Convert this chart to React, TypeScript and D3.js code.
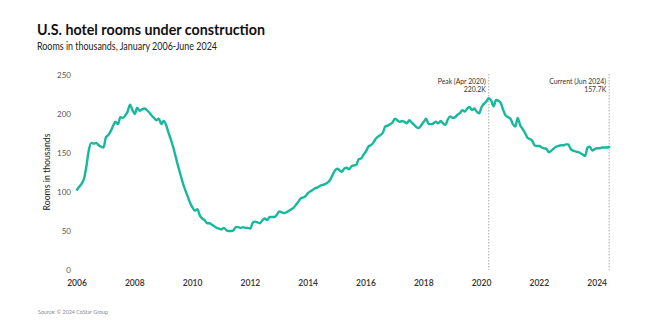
import React from "react";
import * as d3 from "d3";

const startYear = 2006;
const values: number[] = [
  // 2006
  103, 107, 111, 118, 135, 155, 163, 162, 163, 160, 158, 157,
  // 2007
  170, 173, 178, 185, 190, 187, 196, 195, 198, 203, 212, 205,
  // 2008
  200, 208, 204, 206, 207, 205, 202, 198, 195, 192, 194, 187,
  // 2009
  191, 186, 176, 167, 157, 145, 133, 122, 111, 102, 94, 86,
  // 2010
  80, 76, 78, 70, 66, 64, 60, 60, 58, 56, 54, 53,
  // 2011
  52, 54, 51, 50, 50, 51, 55, 55, 54, 55, 54, 54,
  // 2012
  53, 61, 62, 61, 60, 64, 66, 64, 68, 68, 68, 71,
  // 2013
  75, 74, 73, 74, 76, 78, 80, 84, 88, 92, 93, 95,
  // 2014
  99, 101, 103, 105, 106, 108, 109, 110, 112, 115, 121, 127,
  // 2015
  130, 128, 126, 130, 131, 129, 133, 134, 135, 142, 143, 148,
  // 2016
  152, 158, 160, 163, 168, 171, 173, 176, 184, 185, 187, 189,
  // 2017
  194, 192, 190, 191, 190, 188, 192, 189, 186, 183, 182, 186,
  // 2018
  190, 194, 187, 187, 188, 190, 188, 191, 188, 186, 193, 197,
  // 2019
  195, 196, 199, 201, 205, 203, 207, 209, 205, 207, 203, 201,
  // 2020
  209, 213, 216, 220.2, 217, 210, 218, 217, 214, 205, 198, 196,
  // 2021
  194, 187, 184, 195, 186, 181, 176, 170, 168, 166, 160, 159,
  // 2022
  159, 157, 156, 155, 151, 153, 156, 158, 159, 160, 160, 161,
  // 2023
  161, 155, 153, 152, 151, 150, 148, 146, 157, 158, 153, 155,
  // 2024
  156, 156, 157, 157, 157, 157.7,
];

const yTicks = [0, 50, 100, 150, 200, 250];
const xTicks = [2006, 2008, 2010, 2012, 2014, 2016, 2018, 2020, 2022, 2024];

const annotations = [
  { t: 2020 + 3 / 12, label: "Peak (Apr 2020)", value: "220.2K" },
  { t: 2024 + 5 / 12, label: "Current (Jun 2024)", value: "157.7K" },
];

const FONT = "Lato, 'Open Sans', sans-serif";

export default function App() {
  const W = 650;
  const H = 327;
  const x = d3.scaleLinear().domain([2006, 2024 + 5 / 12]).range([77, 609.2]);
  const y = d3.scaleLinear().domain([0, 250]).range([270, 75]);

  const pts = values.map((v, i) => ({ t: startYear + i / 12, v }));
  const line = d3
    .line<{ t: number; v: number }>()
    .x((d) => x(d.t))
    .y((d) => y(d.v))
    .curve(d3.curveMonotoneX);

  return (
    <svg
      width={W}
      height={H}
      style={{ position: "absolute", left: 0, top: 0, background: "#fff" }}
      fontFamily={FONT}
    >
      <text
        x={37}
        y={35}
        fontSize={16}
        fontWeight={700}
        fill="#111"
        textLength={228}
        lengthAdjust="spacingAndGlyphs"
      >
        U.S. hotel rooms under construction
      </text>
      <text
        x={37}
        y={50}
        fontSize={10.5}
        fill="#222"
        textLength={180}
        lengthAdjust="spacingAndGlyphs"
      >
        Rooms in thousands, January 2006-June 2024
      </text>

      {yTicks.map((t) => (
        <text
          key={t}
          x={71}
          y={y(t)}
          dy="0.35em"
          textAnchor="end"
          fontSize={8}
          fill="#555"
        >
          {t}
        </text>
      ))}

      {xTicks.map((t) => (
        <text
          key={t}
          x={x(t)}
          y={283}
          dy="0.35em"
          textAnchor="middle"
          fontSize={8.5}
          fontWeight={600}
          fill="#333"
        >
          {t}
        </text>
      ))}

      <text
        transform={`translate(50,172) rotate(-90)`}
        textAnchor="middle"
        fontSize={10}
        fill="#222"
        textLength={77}
        lengthAdjust="spacingAndGlyphs"
      >
        Rooms in thousands
      </text>

      {annotations.map((a, i) => (
        <g key={a.label}>
          <line
            x1={x(a.t)}
            x2={x(a.t)}
            y1={74}
            y2={270}
            stroke="#aaa"
            strokeWidth={1}
            strokeDasharray="1.5,1.5"
          />
          <text
            x={x(a.t) - 3}
            y={81}
            dy="0.35em"
            textAnchor="end"
            fontSize={8}
            fill="#333"
            textLength={i === 0 ? 48 : 57}
            lengthAdjust="spacingAndGlyphs"
          >
            {a.label}
          </text>
          <text
            x={x(a.t) - 3}
            y={89.5}
            dy="0.35em"
            textAnchor="end"
            fontSize={8}
            fill="#333"
            textLength={22}
            lengthAdjust="spacingAndGlyphs"
          >
            {a.value}
          </text>
        </g>
      ))}

      <path
        d={line(pts) || ""}
        fill="none"
        stroke="#17b89c"
        strokeWidth={2.4}
        strokeLinejoin="round"
        strokeLinecap="round"
      />

      <text
        x={38}
        y={312}
        dy="0.35em"
        fontSize={6.5}
        fill="#888"
        textLength={70}
        lengthAdjust="spacingAndGlyphs"
      >
        Source: © 2024 CoStar Group
      </text>
    </svg>
  );
}
